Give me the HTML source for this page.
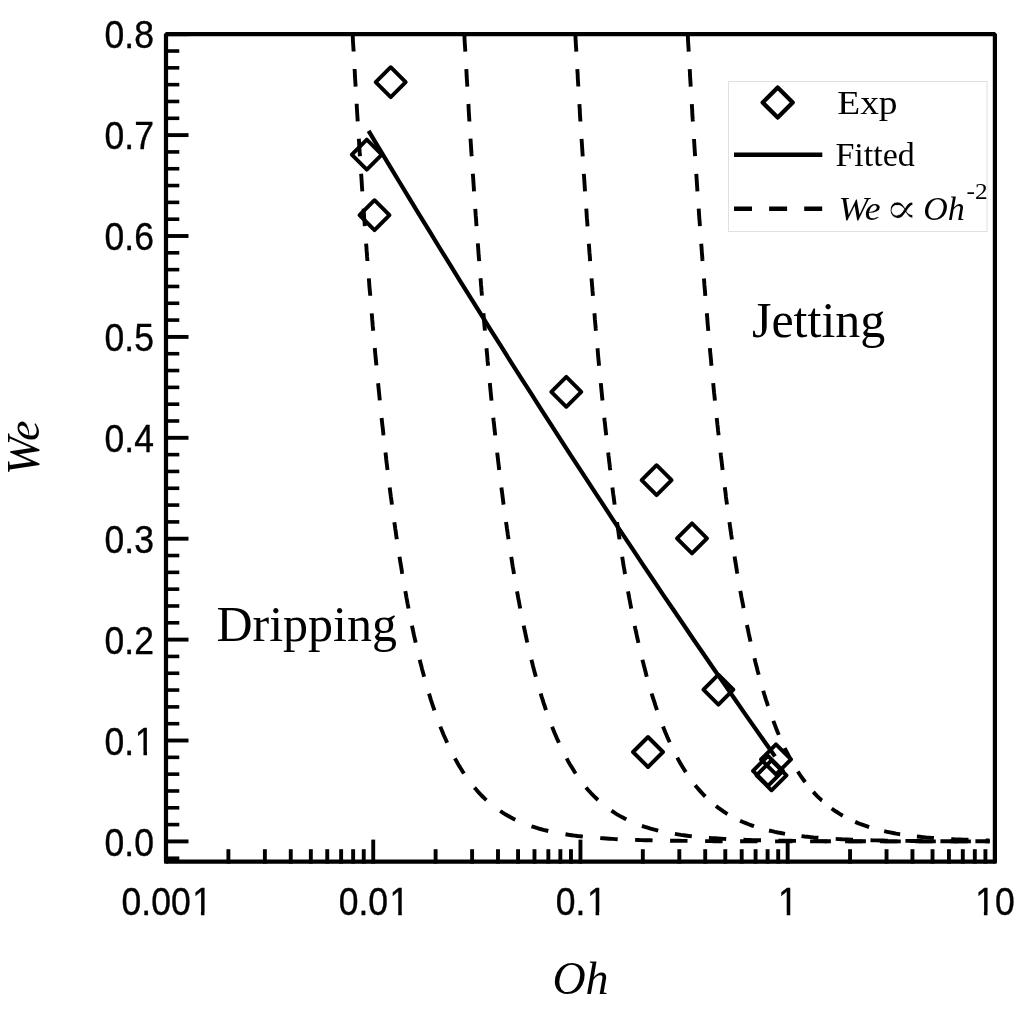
<!DOCTYPE html>
<html lang="en"><head><meta charset="utf-8"><title>We vs Oh</title>
<style>html,body{margin:0;padding:0;background:#fff}svg{display:block}.sans{font-family:"Liberation Sans",sans-serif}.serif{font-family:"Liberation Serif",serif}.it{font-style:italic}</style></head><body>
<svg width="1024" height="1010" viewBox="0 0 1024 1010">
<rect width="1024" height="1010" fill="#fff"/>
<defs><clipPath id="plot"><rect x="166.0" y="34.2" width="828.9" height="827.4"/></clipPath></defs>
<g clip-path="url(#plot)" fill="none" stroke="#000" stroke-width="3.9">
<path d="M352.6 34.2 L352.8 37.2 L352.9 40.3 L353.1 43.3 L353.3 46.4 L353.5 49.6 L353.6 51.5M354.6 69.0 L354.8 72.2 L354.9 75.2 L355.1 78.3 L355.3 81.5 L355.5 84.6 L355.6 86.6M356.7 103.8 L356.8 106.9 L357.0 110.1 L357.2 113.3 L357.4 116.5 L357.6 119.5 L357.7 121.3M358.8 138.8 L359.1 142.1 L359.2 145.1 L359.4 148.1 L359.6 151.2 L359.8 154.3 L360.0 156.3M361.1 173.8 L361.4 177.1 L361.6 180.4 L361.8 183.8 L362.0 186.8 L362.2 189.8 L362.3 191.3M363.6 208.7 L363.8 211.8 L364.0 215.0 L364.2 218.1 L364.5 221.3 L364.7 224.5 L364.8 226.1M366.1 243.6 L366.4 246.9 L366.6 250.2 L366.9 253.5 L367.1 256.9 L367.4 260.2 L367.4 261.0M368.8 278.3 L369.1 281.7 L369.3 285.1 L369.6 288.5 L369.9 291.9 L370.2 294.9 L370.2 295.8M371.7 313.4 L372.0 316.4 L372.2 319.4 L372.5 322.5 L372.7 325.5 L373.0 328.5 L373.2 330.7M374.8 348.0 L375.0 351.1 L375.3 354.1 L375.6 357.2 L375.9 360.2 L376.2 363.2 L376.4 365.4M378.1 383.2 L378.4 386.2 L378.7 389.2 L379.0 392.2 L379.3 395.2 L379.6 398.3 L379.8 400.4M381.6 418.0 L381.9 421.0 L382.3 424.4 L382.7 427.8 L383.1 431.1 L383.4 434.5 L383.5 435.4M385.5 452.6 L385.9 455.9 L386.2 459.2 L386.6 462.5 L387.0 465.8 L387.4 469.1 L387.5 469.9M389.7 487.4 L390.1 490.7 L390.5 493.9 L390.9 497.1 L391.4 500.2 L391.8 503.4 L391.9 504.6M394.3 522.2 L394.8 525.2 L395.2 528.3 L395.7 531.4 L396.1 534.4 L396.5 537.4 L396.8 539.3M399.5 556.7 L400.0 560.0 L400.5 563.2 L401.1 566.4 L401.6 569.6 L402.1 572.8 L402.3 573.9M405.3 591.2 L405.9 594.2 L406.4 597.3 L407.0 600.3 L407.5 603.3 L408.1 606.2 L408.5 608.5M412.0 625.7 L412.6 628.8 L413.3 631.8 L413.9 634.9 L414.6 637.9 L415.3 640.9 L415.7 642.6M419.7 659.8 L420.5 662.9 L421.3 665.9 L422.0 668.9 L422.8 671.8 L423.6 674.7 L424.1 676.8M429.0 693.6 L429.9 696.5 L430.8 699.6 L431.8 702.6 L432.8 705.6 L433.8 708.5 L434.4 710.3M440.3 726.6 L441.4 729.4 L442.6 732.3 L443.8 735.2 L445.1 738.0 L446.3 740.7 L447.2 742.7M454.9 758.4 L456.4 761.0 L457.9 763.7 L459.5 766.4 L461.1 768.9 L462.7 771.6 L464.0 773.5M474.4 787.6 L476.4 789.8 L478.4 792.2 L480.5 794.4 L482.6 796.5 L484.8 798.7 L486.4 800.1M500.2 811.0 L502.7 812.7 L505.3 814.3 L507.9 815.8 L510.6 817.3 L513.3 818.7 L515.3 819.7M531.5 826.3 L534.4 827.2 L537.4 828.1 L540.4 829.0 L543.4 829.8 L546.3 830.5 L548.3 831.0M565.5 834.3 L568.6 834.8 L571.6 835.2 L574.6 835.6 L577.6 836.0 L580.6 836.3 L582.8 836.6M600.2 838.1 L603.3 838.3 L606.3 838.5 L609.4 838.7 L612.5 838.9 L615.7 839.1 L617.7 839.2M635.1 839.9 L638.2 840.0 L641.4 840.1 L644.4 840.2 L647.4 840.3 L650.4 840.3 L652.6 840.4M670.1 840.7 L673.1 840.8 L676.1 840.8 L679.1 840.8 L682.2 840.9 L685.2 840.9 L687.5 840.9M705.1 841.1 L708.2 841.1 L711.2 841.1 L714.2 841.2 L717.3 841.2 L720.3 841.2 L722.6 841.2M740.1 841.3 L743.2 841.3 L746.4 841.3 L749.4 841.3 L752.4 841.3 L755.5 841.3 L757.5 841.3M775.1 841.4 L778.2 841.4 L781.4 841.4 L784.5 841.4 L787.7 841.4 L790.8 841.4 L792.6 841.4M810.1 841.4 L813.1 841.4 L816.2 841.4 L819.3 841.4 L822.4 841.4 L825.5 841.4 L827.5 841.4M845.1 841.4 L848.2 841.4 L851.2 841.4 L854.3 841.4 L857.3 841.4 L860.3 841.4 L862.6 841.4M880.0 841.4 L883.1 841.4 L886.2 841.4 L889.3 841.4 L892.5 841.4 L895.6 841.4 L897.5 841.4M915.0 841.4 L918.2 841.4 L921.2 841.4 L924.2 841.4 L927.2 841.4 L930.2 841.4 L932.5 841.4M950.0 841.4 L953.1 841.4 L956.2 841.4 L959.3 841.4 L962.4 841.4 L965.5 841.4 L967.6 841.4M985.0 841.4 L988.2 841.4 L989.5 841.4"/>
<path d="M464.3 34.2 L464.5 37.2 L464.6 40.3 L464.8 43.3 L465.0 46.3 L465.2 49.4 L465.3 51.6M466.3 69.1 L466.5 72.1 L466.6 75.2 L466.8 78.2 L467.0 81.4 L467.2 84.4 L467.3 86.6M468.4 104.0 L468.6 107.0 L468.7 110.1 L468.9 113.3 L469.1 116.5 L469.3 119.5 L469.4 121.5M470.5 138.7 L470.7 141.7 L470.9 144.7 L471.1 147.8 L471.3 150.9 L471.5 154.0 L471.7 156.2M472.8 173.7 L473.1 177.0 L473.3 180.0 L473.5 183.1 L473.7 186.1 L473.9 189.2 L474.0 191.3M475.3 208.8 L475.5 212.0 L475.7 215.2 L476.0 218.5 L476.2 221.7 L476.4 225.0 L476.5 226.1M477.8 243.4 L478.1 246.8 L478.3 249.8 L478.5 252.8 L478.7 255.8 L479.0 258.9 L479.2 261.1M480.5 278.3 L480.8 281.4 L481.0 284.5 L481.3 287.6 L481.5 290.7 L481.8 293.8 L481.9 295.7M483.4 313.3 L483.7 316.5 L483.9 319.6 L484.2 322.7 L484.5 325.9 L484.8 329.0 L484.9 330.6M486.5 348.3 L486.8 351.5 L487.1 354.6 L487.4 357.8 L487.6 360.9 L487.9 364.1 L488.1 365.7M489.8 383.0 L490.1 386.1 L490.4 389.3 L490.7 392.4 L491.0 395.5 L491.3 398.6 L491.5 400.6M493.3 417.7 L493.6 420.8 L494.0 423.9 L494.3 427.0 L494.6 430.1 L495.0 433.1 L495.2 435.4M497.2 452.6 L497.5 455.6 L497.9 458.6 L498.2 461.6 L498.6 464.6 L498.9 467.6 L499.2 469.9M501.4 487.6 L501.8 490.9 L502.3 494.2 L502.7 497.4 L503.1 500.7 L503.5 503.9 L503.6 504.6M506.0 522.0 L506.5 525.1 L506.9 528.3 L507.4 531.4 L507.8 534.5 L508.3 537.6 L508.5 539.3M511.2 556.8 L511.7 559.7 L512.2 563.0 L512.7 566.3 L513.3 569.5 L513.8 572.7 L514.0 574.0M517.0 591.3 L517.6 594.4 L518.1 597.4 L518.7 600.4 L519.3 603.5 L519.8 606.4 L520.2 608.5M523.7 625.6 L524.3 628.7 L525.0 631.7 L525.6 634.8 L526.3 637.8 L526.9 640.7 L527.4 642.6M531.4 659.8 L532.2 662.8 L532.9 665.8 L533.7 668.7 L534.5 671.7 L535.3 674.8 L535.8 676.7M540.7 693.5 L541.6 696.6 L542.6 699.6 L543.5 702.6 L544.5 705.5 L545.4 708.3 L546.0 710.2M552.1 726.7 L553.2 729.6 L554.4 732.4 L555.6 735.2 L556.8 738.1 L558.1 740.9 L558.9 742.7M566.7 758.4 L568.1 761.1 L569.7 763.9 L571.3 766.5 L572.9 769.1 L574.5 771.8 L575.7 773.5M586.0 787.4 L587.9 789.7 L590.0 792.0 L592.0 794.2 L594.2 796.4 L596.4 798.5 L598.0 800.0M611.5 810.7 L614.0 812.4 L616.6 814.1 L619.2 815.6 L621.9 817.1 L624.6 818.5 L626.3 819.4M641.9 825.8 L644.8 826.8 L647.6 827.7 L650.5 828.6 L653.5 829.4 L656.4 830.1 L658.2 830.6M674.9 833.9 L677.9 834.4 L680.9 834.9 L683.9 835.3 L687.0 835.7 L690.1 836.1 L691.8 836.3M708.9 837.9 L711.9 838.1 L715.0 838.3 L718.0 838.5 L721.0 838.7 L724.1 838.9 L726.2 839.0M743.5 839.8 L746.6 839.9 L749.7 840.0 L752.8 840.1 L755.9 840.2 L758.9 840.3 L761.0 840.3M778.4 840.7 L781.5 840.7 L784.5 840.8 L787.5 840.8 L790.6 840.8 L793.6 840.9 L796.0 840.9M813.4 841.1 L816.4 841.1 L819.5 841.1 L822.5 841.1 L825.5 841.2 L828.6 841.2 L830.9 841.2M848.4 841.3 L851.4 841.3 L854.4 841.3 L857.4 841.3 L860.5 841.3 L863.5 841.3 L865.9 841.3M883.4 841.3 L886.6 841.4 L889.7 841.4 L892.9 841.4 L895.9 841.4 L898.9 841.4 L900.8 841.4M918.4 841.4 L921.5 841.4 L924.6 841.4 L927.7 841.4 L930.8 841.4 L934.0 841.4 L935.8 841.4M953.4 841.4 L956.4 841.4 L959.5 841.4 L962.5 841.4 L965.6 841.4 L968.7 841.4 L970.9 841.4M988.5 841.4 L989.5 841.4"/>
<path d="M575.3 34.2 L575.5 37.2 L575.6 40.2 L575.8 43.3 L576.0 46.3 L576.2 49.3 L576.3 51.6M577.3 69.1 L577.5 72.2 L577.7 75.3 L577.8 78.3 L578.0 81.5 L578.2 84.6 L578.3 86.5M579.4 104.1 L579.6 107.2 L579.8 110.2 L579.9 113.3 L580.1 116.4 L580.3 119.5 L580.4 121.5M581.5 138.9 L581.8 142.1 L582.0 145.3 L582.2 148.3 L582.4 151.3 L582.6 154.4 L582.7 156.3M583.8 173.9 L584.1 177.1 L584.3 180.4 L584.5 183.4 L584.7 186.4 L584.9 189.5 L585.0 191.3M586.3 208.7 L586.5 211.9 L586.7 215.0 L586.9 218.2 L587.2 221.5 L587.4 224.7 L587.5 226.3M588.8 243.7 L589.1 247.0 L589.3 250.0 L589.5 253.0 L589.8 256.0 L590.0 259.0 L590.1 261.1M591.5 278.4 L591.8 281.5 L592.0 284.6 L592.3 287.6 L592.5 290.7 L592.8 293.8 L592.9 295.9M594.4 313.2 L594.7 316.4 L594.9 319.5 L595.2 322.7 L595.5 325.8 L595.7 328.9 L595.9 330.7M597.5 348.2 L597.8 351.3 L598.0 354.5 L598.3 357.6 L598.6 360.8 L598.9 363.9 L599.1 365.7M600.8 383.1 L601.1 386.3 L601.4 389.4 L601.7 392.5 L602.0 395.7 L602.3 398.8 L602.5 400.5M604.3 417.8 L604.6 420.9 L605.0 424.0 L605.3 427.1 L605.6 430.1 L606.0 433.2 L606.2 435.3M608.2 452.5 L608.5 455.5 L608.9 458.6 L609.2 461.6 L609.6 464.6 L609.9 467.5 L610.3 470.2M612.4 487.6 L612.8 490.8 L613.2 494.1 L613.7 497.3 L614.1 500.5 L614.5 503.7 L614.6 504.6M617.1 522.3 L617.5 525.4 L617.9 528.4 L618.4 531.5 L618.8 534.6 L619.3 537.6 L619.5 539.4M622.2 556.8 L622.7 560.0 L623.2 563.2 L623.7 566.4 L624.3 569.5 L624.8 572.7 L625.0 574.1M628.0 591.4 L628.6 594.4 L629.1 597.4 L629.7 600.3 L630.3 603.5 L630.9 606.7 L631.2 608.6M634.7 625.8 L635.3 628.7 L636.0 631.7 L636.6 634.7 L637.3 637.8 L638.0 640.9 L638.4 642.8M642.4 659.7 L643.2 662.8 L644.0 665.9 L644.8 669.0 L645.6 672.0 L646.3 675.0 L646.8 676.7M651.6 693.5 L652.5 696.4 L653.5 699.4 L654.5 702.4 L655.4 705.4 L656.4 708.3 L657.0 710.1M663.0 726.5 L664.2 729.4 L665.3 732.2 L666.5 735.0 L667.7 737.9 L669.0 740.7 L669.7 742.3M677.3 757.7 L678.7 760.3 L680.2 763.0 L681.8 765.7 L683.4 768.3 L685.0 770.9 L685.8 772.1M695.2 785.2 L697.1 787.6 L699.1 789.9 L701.1 792.1 L703.2 794.4 L705.3 796.5M716.0 806.0 L718.4 807.9 L720.9 809.6 L723.4 811.4 L726.0 813.1 L727.5 814.0M740.1 820.7 L742.9 822.0 L745.8 823.1 L748.6 824.3 L751.5 825.3 L754.0 826.2M769.0 830.5 L771.9 831.2 L774.9 831.9 L777.9 832.5 L780.9 833.0 L783.9 833.6 L785.0 833.8M801.5 836.1 L804.6 836.5 L807.6 836.8 L810.6 837.1 L813.6 837.4 L816.6 837.6 L818.4 837.8M835.7 838.9 L838.7 839.1 L841.8 839.3 L844.8 839.4 L847.8 839.5 L850.9 839.7 L853.0 839.7M870.5 840.3 L873.5 840.4 L876.6 840.4 L879.6 840.5 L882.7 840.5 L885.8 840.6 L887.8 840.6M905.4 840.9 L908.4 840.9 L911.5 841.0 L914.7 841.0 L917.7 841.0 L920.7 841.0 L922.8 841.1M940.4 841.2 L943.5 841.2 L946.5 841.2 L949.5 841.2 L952.5 841.2 L955.6 841.2 L957.8 841.3M975.4 841.3 L978.5 841.3 L981.5 841.3 L984.5 841.3 L987.6 841.3 L989.5 841.3"/>
<path d="M687.7 34.2 L687.9 37.2 L688.0 40.3 L688.2 43.2 L688.4 46.3 L688.6 49.4 L688.7 51.6M689.7 69.1 L689.9 72.1 L690.0 75.2 L690.2 78.3 L690.4 81.3 L690.6 84.4 L690.7 86.6M691.8 104.1 L692.0 107.1 L692.2 110.3 L692.3 113.3 L692.5 116.3 L692.7 119.4 L692.9 121.5M694.0 139.0 L694.2 142.2 L694.4 145.4 L694.6 148.4 L694.8 151.5 L695.0 154.6 L695.1 156.2M696.3 173.9 L696.5 176.9 L696.7 180.0 L696.9 183.1 L697.1 186.1 L697.3 189.3 L697.4 191.3M698.7 208.6 L698.9 211.8 L699.1 215.1 L699.3 218.1 L699.6 221.1 L699.8 224.1 L699.9 226.1M701.2 243.7 L701.5 246.8 L701.7 250.0 L701.9 253.1 L702.2 256.2 L702.4 259.4 L702.6 261.1M703.9 278.5 L704.2 281.7 L704.4 284.9 L704.7 288.2 L705.0 291.4 L705.2 294.6 L705.3 295.8M706.8 313.3 L707.1 316.5 L707.4 319.8 L707.6 323.1 L707.9 326.4 L708.2 329.6 L708.3 330.8M709.9 348.2 L710.1 351.1 L710.4 354.1 L710.7 357.1 L711.0 360.1 L711.2 363.1 L711.5 365.8M713.2 383.1 L713.5 386.4 L713.8 389.6 L714.1 392.9 L714.5 396.2 L714.8 399.4 L714.9 400.6M716.7 418.0 L717.1 421.2 L717.4 424.4 L717.8 427.7 L718.1 430.9 L718.5 434.1 L718.6 435.2M720.6 452.6 L720.9 455.7 L721.3 458.9 L721.7 462.0 L722.0 465.1 L722.4 468.2 L722.6 469.9M724.8 487.3 L725.2 490.3 L725.6 493.4 L725.9 496.4 L726.3 499.4 L726.7 502.4 L727.0 504.6M729.4 522.1 L729.9 525.2 L730.3 528.4 L730.8 531.6 L731.2 534.7 L731.7 537.8 L731.9 539.4M734.6 556.4 L735.0 559.4 L735.5 562.4 L736.0 565.4 L736.5 568.6 L737.0 571.8 L737.4 573.7M740.3 590.9 L740.9 593.9 L741.4 596.9 L742.0 599.9 L742.6 602.9 L743.2 606.0 L743.5 608.1M746.9 625.0 L747.6 628.0 L748.2 630.9 L748.8 633.9 L749.5 637.0 L750.2 640.1 L750.5 641.7M754.5 658.3 L755.2 661.4 L756.0 664.4 L756.8 667.4 L757.5 670.4 L758.3 673.3 L758.7 674.8M763.2 690.7 L764.1 693.7 L765.0 696.6 L765.9 699.6 L766.9 702.4 L767.8 705.4 L768.1 706.1M773.3 720.9 L774.4 723.7 L775.5 726.7 L776.6 729.6 L777.8 732.4 L778.8 734.9M784.7 748.0 L786.1 750.8 L787.5 753.5 L788.9 756.2 L790.3 758.9 L791.0 760.2M797.8 771.5 L799.4 774.0 L801.2 776.6 L802.9 779.0 L804.7 781.5 L805.2 782.2M813.3 791.9 L815.3 794.1 L817.4 796.3 L819.6 798.4 L821.8 800.5 L822.0 800.6M831.7 808.5 L834.2 810.3 L836.8 812.0 L839.3 813.7 L841.9 815.2 L842.8 815.7M855.2 821.9 L858.0 823.1 L860.8 824.2 L863.6 825.2 L866.5 826.2 L869.1 827.1M884.2 831.2 L887.2 831.8 L890.1 832.4 L893.1 833.0 L896.1 833.6 L899.1 834.1 L900.2 834.2M916.9 836.5 L919.9 836.8 L922.9 837.1 L926.0 837.4 L929.0 837.6 L932.1 837.9 L933.9 838.0M951.2 839.1 L954.2 839.3 L957.2 839.4 L960.3 839.5 L963.3 839.7 L966.4 839.8 L968.5 839.8M985.9 840.4 L988.9 840.4 L989.5 840.4"/>
</g>
<path d="M368.6 130.9 L378.8 147.9 L388.9 164.7 L399.1 181.5 L409.2 198.2 L419.4 214.9 L429.6 231.4 L439.7 248.0 L449.9 264.4 L460.0 280.8 L470.2 297.1 L480.4 313.4 L490.5 329.6 L500.7 345.7 L510.8 361.8 L521.0 377.8 L531.2 393.7 L541.3 409.6 L551.5 425.4 L561.6 441.1 L571.8 456.8 L582.0 472.4 L592.1 487.9 L602.3 503.4 L612.4 518.8 L622.6 534.1 L632.8 549.4 L642.9 564.6 L653.1 579.7 L663.2 594.8 L673.4 609.8 L683.6 624.8 L693.7 639.7 L703.9 654.5 L714.0 669.2 L724.2 683.9 L734.4 698.5 L744.5 713.1 L754.7 727.6 L764.8 742.0 L775.0 756.4" fill="none" stroke="#000" stroke-width="4.2"/>
<g fill="none" stroke="#000" stroke-width="3.9" stroke-linejoin="round">
<path d="M390.7 67.2L405.7 82.2L390.7 97.2L375.7 82.2Z"/>
<path d="M366.8 139.6L381.8 154.6L366.8 169.6L351.8 154.6Z"/>
<path d="M374.5 200.2L389.5 215.2L374.5 230.2L359.5 215.2Z"/>
<path d="M566.3 376.8L581.3 391.8L566.3 406.8L551.3 391.8Z"/>
<path d="M656.6 465.2L671.6 480.2L656.6 495.2L641.6 480.2Z"/>
<path d="M692.0 523.4L707.0 538.4L692.0 553.4L677.0 538.4Z"/>
<path d="M718.4 674.7L733.4 689.7L718.4 704.7L703.4 689.7Z"/>
<path d="M648.0 737.0L663.0 752.0L648.0 767.0L633.0 752.0Z"/>
<path d="M776.0 744.4L791.0 759.4L776.0 774.4L761.0 759.4Z"/>
<path d="M768.0 755.8L783.0 770.8L768.0 785.8L753.0 770.8Z"/>
<path d="M771.5 760.3L786.5 775.3L771.5 790.3L756.5 775.3Z"/>
</g>
<g stroke="#000" stroke-width="3.9">
<line x1="166.0" y1="841.42" x2="188.5" y2="841.42"/>
<line x1="166.0" y1="740.52" x2="188.5" y2="740.52"/>
<line x1="166.0" y1="639.61" x2="188.5" y2="639.61"/>
<line x1="166.0" y1="538.71" x2="188.5" y2="538.71"/>
<line x1="166.0" y1="437.81" x2="188.5" y2="437.81"/>
<line x1="166.0" y1="336.91" x2="188.5" y2="336.91"/>
<line x1="166.0" y1="236.00" x2="188.5" y2="236.00"/>
<line x1="166.0" y1="135.10" x2="188.5" y2="135.10"/>
<line x1="166.0" y1="34.20" x2="188.5" y2="34.20"/>
<line x1="166.0" y1="858.24" x2="179.3" y2="858.24" stroke-width="3.6"/>
<line x1="166.0" y1="824.60" x2="179.3" y2="824.60" stroke-width="3.6"/>
<line x1="166.0" y1="807.79" x2="179.3" y2="807.79" stroke-width="3.6"/>
<line x1="166.0" y1="790.97" x2="179.3" y2="790.97" stroke-width="3.6"/>
<line x1="166.0" y1="774.15" x2="179.3" y2="774.15" stroke-width="3.6"/>
<line x1="166.0" y1="757.33" x2="179.3" y2="757.33" stroke-width="3.6"/>
<line x1="166.0" y1="723.70" x2="179.3" y2="723.70" stroke-width="3.6"/>
<line x1="166.0" y1="706.88" x2="179.3" y2="706.88" stroke-width="3.6"/>
<line x1="166.0" y1="690.07" x2="179.3" y2="690.07" stroke-width="3.6"/>
<line x1="166.0" y1="673.25" x2="179.3" y2="673.25" stroke-width="3.6"/>
<line x1="166.0" y1="656.43" x2="179.3" y2="656.43" stroke-width="3.6"/>
<line x1="166.0" y1="622.80" x2="179.3" y2="622.80" stroke-width="3.6"/>
<line x1="166.0" y1="605.98" x2="179.3" y2="605.98" stroke-width="3.6"/>
<line x1="166.0" y1="589.16" x2="179.3" y2="589.16" stroke-width="3.6"/>
<line x1="166.0" y1="572.35" x2="179.3" y2="572.35" stroke-width="3.6"/>
<line x1="166.0" y1="555.53" x2="179.3" y2="555.53" stroke-width="3.6"/>
<line x1="166.0" y1="521.90" x2="179.3" y2="521.90" stroke-width="3.6"/>
<line x1="166.0" y1="505.08" x2="179.3" y2="505.08" stroke-width="3.6"/>
<line x1="166.0" y1="488.26" x2="179.3" y2="488.26" stroke-width="3.6"/>
<line x1="166.0" y1="471.44" x2="179.3" y2="471.44" stroke-width="3.6"/>
<line x1="166.0" y1="454.63" x2="179.3" y2="454.63" stroke-width="3.6"/>
<line x1="166.0" y1="420.99" x2="179.3" y2="420.99" stroke-width="3.6"/>
<line x1="166.0" y1="404.18" x2="179.3" y2="404.18" stroke-width="3.6"/>
<line x1="166.0" y1="387.36" x2="179.3" y2="387.36" stroke-width="3.6"/>
<line x1="166.0" y1="370.54" x2="179.3" y2="370.54" stroke-width="3.6"/>
<line x1="166.0" y1="353.72" x2="179.3" y2="353.72" stroke-width="3.6"/>
<line x1="166.0" y1="320.09" x2="179.3" y2="320.09" stroke-width="3.6"/>
<line x1="166.0" y1="303.27" x2="179.3" y2="303.27" stroke-width="3.6"/>
<line x1="166.0" y1="286.46" x2="179.3" y2="286.46" stroke-width="3.6"/>
<line x1="166.0" y1="269.64" x2="179.3" y2="269.64" stroke-width="3.6"/>
<line x1="166.0" y1="252.82" x2="179.3" y2="252.82" stroke-width="3.6"/>
<line x1="166.0" y1="219.19" x2="179.3" y2="219.19" stroke-width="3.6"/>
<line x1="166.0" y1="202.37" x2="179.3" y2="202.37" stroke-width="3.6"/>
<line x1="166.0" y1="185.55" x2="179.3" y2="185.55" stroke-width="3.6"/>
<line x1="166.0" y1="168.74" x2="179.3" y2="168.74" stroke-width="3.6"/>
<line x1="166.0" y1="151.92" x2="179.3" y2="151.92" stroke-width="3.6"/>
<line x1="166.0" y1="118.29" x2="179.3" y2="118.29" stroke-width="3.6"/>
<line x1="166.0" y1="101.47" x2="179.3" y2="101.47" stroke-width="3.6"/>
<line x1="166.0" y1="84.65" x2="179.3" y2="84.65" stroke-width="3.6"/>
<line x1="166.0" y1="67.83" x2="179.3" y2="67.83" stroke-width="3.6"/>
<line x1="166.0" y1="51.02" x2="179.3" y2="51.02" stroke-width="3.6"/>
<line x1="166.00" y1="863.6" x2="166.00" y2="839.6"/>
<line x1="373.23" y1="863.6" x2="373.23" y2="839.6"/>
<line x1="580.45" y1="863.6" x2="580.45" y2="839.6"/>
<line x1="787.67" y1="863.6" x2="787.67" y2="839.6"/>
<line x1="994.90" y1="863.6" x2="994.90" y2="839.6"/>
<line x1="228.38" y1="863.6" x2="228.38" y2="849.2"/>
<line x1="264.87" y1="863.6" x2="264.87" y2="849.2"/>
<line x1="290.76" y1="863.6" x2="290.76" y2="849.2"/>
<line x1="310.84" y1="863.6" x2="310.84" y2="849.2"/>
<line x1="327.25" y1="863.6" x2="327.25" y2="849.2"/>
<line x1="341.13" y1="863.6" x2="341.13" y2="849.2"/>
<line x1="353.14" y1="863.6" x2="353.14" y2="849.2"/>
<line x1="363.74" y1="863.6" x2="363.74" y2="849.2"/>
<line x1="435.61" y1="863.6" x2="435.61" y2="849.2"/>
<line x1="472.10" y1="863.6" x2="472.10" y2="849.2"/>
<line x1="497.99" y1="863.6" x2="497.99" y2="849.2"/>
<line x1="518.07" y1="863.6" x2="518.07" y2="849.2"/>
<line x1="534.48" y1="863.6" x2="534.48" y2="849.2"/>
<line x1="548.35" y1="863.6" x2="548.35" y2="849.2"/>
<line x1="560.37" y1="863.6" x2="560.37" y2="849.2"/>
<line x1="570.97" y1="863.6" x2="570.97" y2="849.2"/>
<line x1="642.83" y1="863.6" x2="642.83" y2="849.2"/>
<line x1="679.32" y1="863.6" x2="679.32" y2="849.2"/>
<line x1="705.21" y1="863.6" x2="705.21" y2="849.2"/>
<line x1="725.29" y1="863.6" x2="725.29" y2="849.2"/>
<line x1="741.70" y1="863.6" x2="741.70" y2="849.2"/>
<line x1="755.58" y1="863.6" x2="755.58" y2="849.2"/>
<line x1="767.59" y1="863.6" x2="767.59" y2="849.2"/>
<line x1="778.19" y1="863.6" x2="778.19" y2="849.2"/>
<line x1="850.06" y1="863.6" x2="850.06" y2="849.2"/>
<line x1="886.55" y1="863.6" x2="886.55" y2="849.2"/>
<line x1="912.44" y1="863.6" x2="912.44" y2="849.2"/>
<line x1="932.52" y1="863.6" x2="932.52" y2="849.2"/>
<line x1="948.93" y1="863.6" x2="948.93" y2="849.2"/>
<line x1="962.80" y1="863.6" x2="962.80" y2="849.2"/>
<line x1="974.82" y1="863.6" x2="974.82" y2="849.2"/>
<line x1="985.42" y1="863.6" x2="985.42" y2="849.2"/>
</g>
<rect x="166.0" y="34.2" width="828.9" height="827.4" fill="none" stroke="#000" stroke-width="4.2" stroke-linejoin="bevel"/>
<g class="sans" font-size="35.5" fill="#000" stroke="#000" stroke-width="0.35">
<text transform="translate(104.55 855.6) scale(1 1.090)">0.0</text>
<clipPath id="c1"><path clip-rule="evenodd" d="M0 0H1024V1010H0ZM136.26 751.55H143.51V756.72H136.26ZM147.00 751.55H154.26V756.72H147.00Z"/></clipPath>
<g clip-path="url(#c1)"><text transform="translate(104.55 754.7) scale(1 1.090)" dx="0 0 0.6">0.1</text></g>
<text transform="translate(104.55 653.8) scale(1 1.090)">0.2</text>
<text transform="translate(104.55 552.9) scale(1 1.090)">0.3</text>
<text transform="translate(104.55 452.0) scale(1 1.090)">0.4</text>
<text transform="translate(104.55 351.1) scale(1 1.090)">0.5</text>
<text transform="translate(104.55 250.2) scale(1 1.090)">0.6</text>
<text transform="translate(104.55 149.3) scale(1 1.090)">0.7</text>
<text transform="translate(104.55 48.4) scale(1 1.090)">0.8</text>
<clipPath id="c20"><path clip-rule="evenodd" d="M0 0H1024V1010H0ZM193.67 911.93H200.93V917.10H193.67ZM204.41 911.93H211.67V917.10H204.41Z"/></clipPath>
<g clip-path="url(#c20)"><text transform="translate(121.58 915.1) scale(1 1.090)" dx="0 0 0 0 1.5">0.001</text></g>
<clipPath id="c21"><path clip-rule="evenodd" d="M0 0H1024V1010H0ZM391.03 911.93H398.28V917.10H391.03ZM401.77 911.93H409.03V917.10H401.77Z"/></clipPath>
<g clip-path="url(#c21)"><text transform="translate(338.68 915.1) scale(1 1.090)" dx="0 0 0 1.5">0.01</text></g>
<clipPath id="c22"><path clip-rule="evenodd" d="M0 0H1024V1010H0ZM588.38 911.93H595.63V917.10H588.38ZM599.12 911.93H606.38V917.10H599.12Z"/></clipPath>
<g clip-path="url(#c22)"><text transform="translate(555.78 915.1) scale(1 1.090)" dx="0 0 1.5">0.1</text></g>
<clipPath id="c23"><path clip-rule="evenodd" d="M0 0H1024V1010H0ZM779.50 911.93H786.76V917.10H779.50ZM790.24 911.93H797.50V917.10H790.24Z"/></clipPath>
<g clip-path="url(#c23)"><text transform="translate(777.80 915.1) scale(1 1.090)" dx="0.2">1</text></g>
<clipPath id="c24"><path clip-rule="evenodd" d="M0 0H1024V1010H0ZM976.66 911.93H983.91V917.10H976.66ZM987.40 911.93H994.66V917.10H987.40Z"/></clipPath>
<g clip-path="url(#c24)"><text transform="translate(975.16 915.1) scale(1 1.090)">10</text></g>
</g>
<text class="serif it" font-size="46" x="580.5" y="994" text-anchor="middle">Oh</text>
<text class="serif it" font-size="46" transform="translate(39.3 447.8) rotate(-90)" text-anchor="middle">We</text>
<text class="serif" font-size="50.8" transform="translate(216.5 640.6) scale(0.984 1)">Dripping</text>
<text class="serif" font-size="50.8" transform="translate(752 337) scale(0.984 1)">Jetting</text>
<rect x="728.5" y="81.5" width="258.5" height="150" fill="#fff" stroke="#e0e0e0" stroke-width="1"/>
<path d="M777.7 87.6L792.7 102.6L777.7 117.6L762.7 102.6Z" fill="none" stroke="#000" stroke-width="4.3" stroke-linejoin="round"/>
<line x1="734" y1="154.8" x2="822.3" y2="154.8" stroke="#000" stroke-width="4.4"/>
<line x1="734" y1="208.8" x2="822.3" y2="208.8" stroke="#000" stroke-width="4.4" stroke-dasharray="18 17.1"/>
<g class="serif" font-size="34" fill="#000">
<text transform="translate(837.3 114) scale(1.1 1)">Exp</text>
<text x="835.4" y="165.5">Fitted</text>
<text class="it" transform="translate(838.4 219.6) scale(1.05 1)">We</text>
<text style="font-family:'DejaVu Serif',serif" font-size="43" stroke="#fff" stroke-width="0.7" transform="translate(884.8 223.1) scale(1.150 1.000)">∝</text>
<text class="it" x="923.2" y="219.6">Oh</text>
<text font-size="23" transform="translate(966.6 199.3) scale(1.1 1)">-2</text>
</g>
</svg></body></html>
